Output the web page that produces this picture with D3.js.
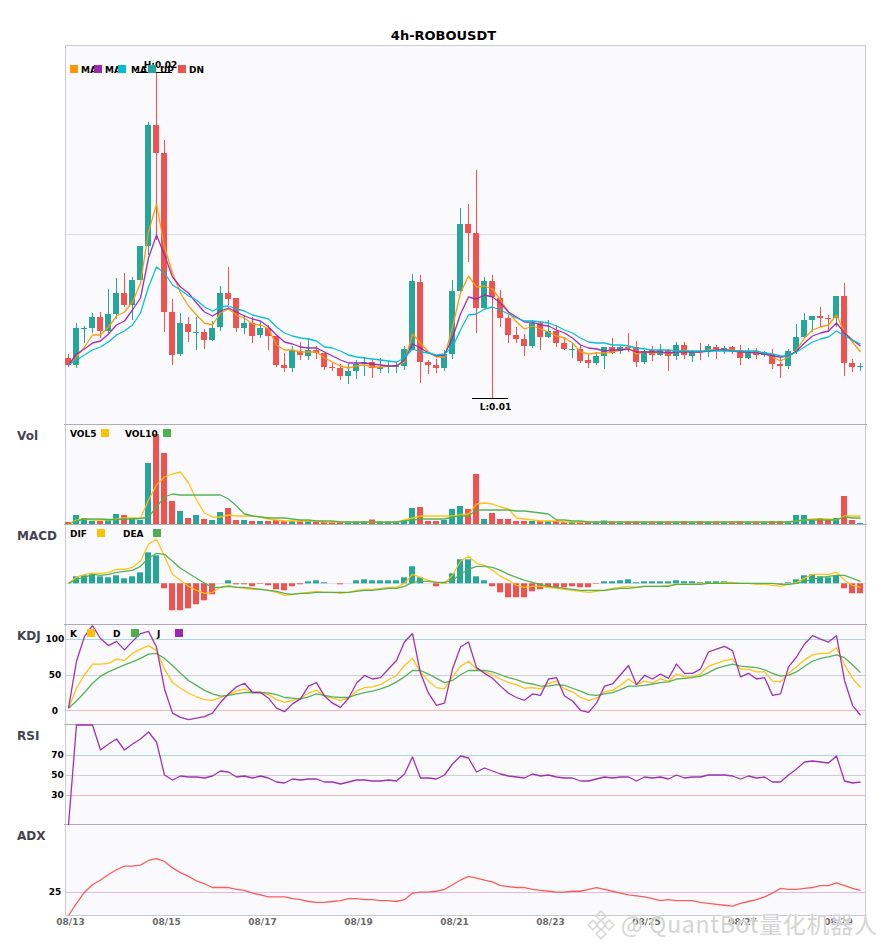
<!DOCTYPE html>
<html><head><meta charset="utf-8">
<script src="https://cdn.jsdelivr.net/npm/d3@7"></script>
<style>html,body{margin:0;padding:0;background:#fff}svg{display:block}text{font-family:"DejaVu Sans",sans-serif}</style>
</head><body><div id="chart"></div>
<script>
const title = "4h-ROBOUSDT";
const dateLabels = ["08/13","08/15","08/17","08/19","08/21","08/23","08/25","08/27","08/29"];
// price series, in chart units (price axis carries no scale labels in the source)
const openP = [42,35,71,72,83,69,86,107,95,120,154,275,247,88,46,76,67,68,60,73,107,102,72,77,65,72,64,35,32,49,44,50,47,33,32,24,29,36,38,31,33,33,34,50,118,38,35,32,46,109,176,167,92,119,102,82,65,61,54,77,63,69,57,50,51,40,37,44,53,49,53,53,38,50,45,50,44,55,44,49,48,53,50,53,50,42,49,45,46,36,34,49,63,80,84,82,82,104,37,33];
const closeP = [35,72,72,83,69,86,107,95,120,154,275,247,88,45,77,68,68,60,72,107,101,72,77,64,72,64,35,32,50,45,50,47,33,32,24,29,36,38,32,33,34,35,51,119,38,35,32,46,109,176,167,92,119,103,82,65,61,54,77,63,69,57,51,51,39,37,44,53,47,53,52,38,49,45,50,44,55,45,48,48,54,51,52,50,42,48,45,48,36,34,49,63,80,84,82,81,104,37,33,34];
const highP = [46,77,74,87,88,111,122,127,123,154,278,328,260,101,87,83,83,71,79,114,133,102,85,83,79,75,64,47,54,58,62,54,47,37,36,36,40,43,40,42,39,39,54,126,125,40,41,50,120,192,196,230,123,125,110,85,73,66,80,79,80,75,63,57,55,45,48,53,62,54,67,59,50,54,56,51,58,58,50,57,56,55,54,54,55,52,52,49,51,44,51,76,87,84,93,85,104,117,41,37];
const lowP = [33,32,57,67,62,67,81,93,80,120,145,160,68,35,44,58,50,51,59,69,95,68,66,57,62,50,33,28,28,40,40,41,30,29,20,16,21,24,22,27,27,27,30,50,17,26,27,29,41,108,138,67,92,2,73,57,57,44,52,50,62,53,50,42,37,32,35,31,46,46,48,33,36,39,44,29,40,41,38,40,43,41,46,46,35,41,41,43,31,22,31,46,62,68,73,68,73,24,28,29];
const ma5 = [35,43,53,65,65,73,84,88,98,117,168,196,153,127,107,94,85,77,75,87,91,85,82,76,75,71,55,50,50,48,48,48,42,38,34,32,34,35,33,33,34,34,38,66,57,48,43,43,73,107,124,113,114,111,100,88,78,71,74,71,68,64,62,57,48,46,47,47,48,50,52,46,48,47,48,46,48,50,48,48,50,50,50,50,48,48,47,47,43,39,43,50,62,70,73,75,85,68,58,48];
const ma10 = [35,46,51,57,59,66,75,79,90,102,142,165,145,123,113,107,97,88,84,89,92,88,84,81,79,73,65,58,56,53,52,52,48,44,40,37,37,37,36,35,34,34,40,56,52,47,44,45,62,86,103,101,105,103,97,88,83,78,78,75,74,70,67,62,55,52,51,49,50,50,51,48,48,48,48,47,48,48,48,48,49,50,50,49,48,48,47,46,44,43,44,49,57,64,67,69,77,67,60,54];
const ma20 = [35,40,45,50,53,58,65,69,75,87,113,133,127,115,110,104,100,93,89,93,94,91,89,85,83,81,73,67,64,62,61,59,53,52,49,45,43,42,41,40,39,38,42,51,48,47,45,46,53,70,85,86,91,93,90,86,82,79,79,78,77,74,70,67,62,58,57,57,55,55,54,52,51,50,50,50,49,49,49,49,49,49,49,49,49,49,49,47,46,44,44,48,53,58,61,63,69,64,60,56];
const volume = [2,9,6,3,3,5,10,9,6,4,61,90,71,23,13,6,9,5,4,12,16,4,4,3,3,3,4,3,3,3,3,2,2,2,2,1,2,3,4.5,2,2,2,4,16,17,3,3,4,15,18,15,50,5,11,5,5,3,3,3,3,3,3,2,2,2,2,1,3.5,2,1,2,2,1,1,2,1,1,3,1,3,2,1,1,1,3,1,1,1,3,3,3,9,9,4,6,4,6,28,4,1];
const vol5 = [0,4,5,4,4,4,5,6,6,6,24,39,47,50,52,41,24,11,7,7,9,8,8,8,7,5,4,3,3,3,3,3,2,2,2,2,2,2,2,2,2,2,4,6,8,8,8,8,8,9,10,20,21,20,17,15,6,5,4,3,3,3,2,2,2,2,2,2,2,2,2,2,2,2,2,2,2,2,2,2,2,2,2,2,2,2,2,2,2,2,2,3,4,5,5,5,4,8,8,8];
const vol10 = [0,3,5,5,5,4.5,4.5,5,5,5.5,7,17,27,30,29,29,29,29,29,29,25,18,10,8,7,6,6,6,5,4,4,3,3,3,2,2,2,2,2,2,2,2,3,4,5,5,5,5,7,8,8,14,14,14,14,14,13,13,12,11,10,4,4,3,3,2,2,2,2,2,2,2,2,2,2,2,2,2,2,2,2,2,2,2,2,2,2,2,2,2,2,3,4,4,4,4,4,7,6,6];
const macdHist = [0,7,8,9,7,6,8,5,7,11,31,28,-5,-27,-27,-25,-21,-17,-11,0,3,-1,-1,-3,-0.5,-2,-6,-7,-3,-1,2,3,1,0,-1,0,3,4,3,3,3,3,6,17,6,0,-3,-0.5,10,24,24,7,3,-3,-9,-14,-14,-14,-8,-6,-4,-4,-4,-3,-4,-4,-0.5,2,2,3,4,1,2,2,2,2,3,2,2,1,2,2,2,0,0,0,0,0,-0.5,-0.5,1,4,8,9,7,6,8,-5,-10,-10];
const dif = [0,6,9,10,10,11,14,14,16,22,39,44,27,9,3,-3,-7,-10,-9,-4,-2,-4,-5,-6,-6,-7,-9,-12,-11,-10,-9,-8,-9,-9,-10,-9,-7,-6,-6,-5,-4,-4,0,9,6,3,1,0,8,22,27,20,18,13,7,3,-2,-4,-3,-3,-4,-5,-6,-7,-8,-9,-8,-7,-5,-4,-3,-4,-3,-3,-3,-2,-1,-1,-1,0,0,0,1,1,0,0,-1,-1,-2,-3,-1,1,5,9,9,9,11,3,-2,-4];
const dea = [0,4,6,9,8,9,11,12,13,17,25,30,29,22,15,10,5,0,-4,-4,-3,-4,-4,-5,-6,-7,-8,-10,-11,-10,-10,-9,-9,-9,-9,-9,-8,-7,-7,-6,-5,-5,-3,1,2,2,1,1,3,9,14,17,17,16,13,9,6,3,1,-1,-3,-4,-5,-6,-7,-7,-7,-7,-6,-5,-5,-4,-3,-3,-3,-3,-1,-1,-1,-1,0,0,0,0,0,0,0,0,0,-1,-1,0,2,4,6,7,8,8,5,2];
const kdjK = [3,31,50,65,65,66,72,70,80,86,91,84,58,39,31,24,19,15,14,18,22,27,30,25,25,22,15,11,14,17,24,28,20,17,14,17,27,32,33,36,43,49,63,73,54,41,32,30,47,62,69,58,54,50,44,39,36,31,32,30,38,41,30,26,18,14,17,26,28,35,44,36,41,39,44,41,51,47,47,51,62,66,70,72,58,58,54,54,41,40,52,61,71,78,80,80,88,64,45,32];
const kdjD = [3,13,25,38,48,54,59,64,68,73,79,80,73,63,52,42,35,28,23,20,21,23,25,25,25,24,22,18,17,16,19,23,21,19,18,18,22,25,27,30,34,40,47,56,56,51,45,39,42,50,56,56,56,54,50,46,43,39,37,34,34,36,35,31,27,22,21,23,25,29,34,34,35,37,39,40,44,45,46,48,53,59,62,65,62,61,60,57,52,48,49,54,62,69,73,75,78,74,64,53];
const kdjJ = [3,69,104,119,101,91,97,85,97,108,111,89,30,-4,-10,-13,-11,-9,-4,11,23,33,38,25,25,17,3,-2,9,16,34,39,20,10,4,17,38,49,44,46,58,70,96,108,52,24,7,10,58,89,96,60,52,45,34,24,18,14,23,21,44,46,20,13,0,-3,10,34,37,50,63,36,49,44,51,45,65,52,52,58,82,86,90,84,47,52,44,46,21,23,61,75,93,105,100,96,105,42,7,-7];
const rsi = [0,100,100,100,75,81,86,75,81,86,93,83,50,45,49,48,48,47,49,54,53,48,49,47,49,47,43,42,46,45,46,46,43,43,41,43,45,45,44,44,45,44,51,68,47,47,46,50,61,69,67,53,57,54,51,49,48,47,51,49,50,48,47,47,44,44,46,48,47,48,48,44,48,47,48,46,50,47,48,48,50,50,50,49,46,49,47,48,43,43,50,56,63,64,63,62,69,44,42,43];
const adx = [0,13,25,33,38,44,49,53,53,54,59,61,58,51,46,42,37,34,30,30,30,28,27,24,22,20,20,20,18,17,15,14,14,15,16,18,18,17,17,16,16,15,17,24,25,25,26,28,33,38,42,40,38,36,32,31,30,30,28,27,26,25,25,26,26,28,30,28,26,24,22,21,20,18,16,17,16,16,16,14,13,12,11,10,13,15,17,20,24,29,28,28,29,30,32,32,35,32,29,27];
const kdjLevels = [100,50,0];
const rsiLevels = [70,50,30];
const adxLevels = [25];
const highLabel = "H:0.02", lowLabel = "L:0.01";

const UP="#26a69a", DN="#ef5350", ORANGE="#ff9800", PURPLE="#9c27b0", CYAN="#00bcd4", YEL="#ffc107", GRN="#4caf50";
const L=65.5, R=865.5, W=885, H=950;
const svg=d3.select("#chart").append("svg").attr("width",W).attr("height",H);
const x=d3.scaleLinear().domain([0,99]).range([68,860]);
const idx=d3.range(100);
const bw=6;

svg.append("text").attr("x",443.5).attr("y",39.5).attr("text-anchor","middle").attr("font-size",13).attr("font-weight","bold").attr("fill","#000").text(title);

// panel frames
svg.append("rect").attr("x",L).attr("y",45.5).attr("width",R-L).attr("height",870).attr("fill","#fafafc").attr("stroke","#c9c9d3").attr("stroke-width",1);
const splits=[424.5,524.5,624.5,724.5,824.5];
svg.selectAll("line.split").data(splits).join("line").attr("class","split").attr("x1",L-1.5).attr("x2",R+1.5).attr("y1",d=>d).attr("y2",d=>d).attr("stroke","#aeaeb4");

// scales
const yP=d3.scaleLinear().domain([-24,355]).range([424,45]);
const yV=d3.scaleLinear().domain([0,100]).range([524,424]);
const yM=d3.scaleLinear().domain([-40.7,58.3]).range([624,525]);
const yK=d3.scaleLinear().domain([-19.3,120]).range([724,625]);
const yR=d3.scaleLinear().domain([0,100]).range([825,725]);
const yA=d3.scaleLinear().domain([0,97]).range([915.5,825]);

function line(sel,series,y,color,w){
  sel.append("path").datum(series).attr("fill","none").attr("stroke",color).attr("stroke-width",w||1.3).attr("stroke-linejoin","round").attr("stroke-opacity",0.95)
   .attr("d",d3.line().x((d,i)=>x(i)+.5).y(d=>y(d)));
}
function hline(val,y,color){
  svg.append("line").attr("x1",L+.5).attr("x2",R-.5).attr("y1",Math.round(y(val))+.5).attr("y2",Math.round(y(val))+.5).attr("stroke",color);
}
function legend(items){
  items.forEach(it=>svg.append("text").attr("x",it.tx).attr("y",it.sy+7.5).attr("font-size",9).attr("font-weight","bold").attr("fill","#000").text(it.t));
  items.forEach(it=>svg.append("rect").attr("x",it.sx).attr("y",it.sy).attr("width",8).attr("height",8).attr("fill",it.c));
}
function side(t,yy){svg.append("text").attr("x",17).attr("y",yy).attr("font-size",12).attr("font-weight","bold").attr("fill","#444450").text(t);}
function lvl(t,px,yy){svg.append("text").attr("x",px).attr("y",yy).attr("dy","0.36em").attr("text-anchor","middle").attr("font-size",9).attr("font-weight","bold").attr("fill","#000").text(t);}

// main panel
hline(166,yP,"#e0dde8");
const g=svg.append("g");
const col=i=>closeP[i]>=openP[i]?UP:DN;
g.selectAll("line.wick").data(idx).join("line").attr("class","wick").attr("x1",i=>x(i)+.5).attr("x2",i=>x(i)+.5).attr("y1",i=>yP(highP[i])).attr("y2",i=>yP(lowP[i])).attr("stroke",col).attr("stroke-width",1);
g.selectAll("rect.body").data(idx).join("rect").attr("class","body").attr("x",i=>x(i)-bw/2).attr("width",bw)
 .attr("y",i=>yP(Math.max(openP[i],closeP[i]))).attr("height",i=>Math.max(1,Math.abs(yP(openP[i])-yP(closeP[i])))).attr("fill",col);
line(g,ma5,yP,ORANGE,1.3);line(g,ma10,yP,PURPLE,1.3);line(g,ma20,yP,CYAN,1.3);

// H / L markers
const iH=d3.maxIndex(highP), iL=d3.minIndex(lowP);
svg.append("line").attr("x1",x(iH)-20).attr("x2",x(iH)+16).attr("y1",yP(highP[iH])+.5).attr("y2",yP(highP[iH])+.5).attr("stroke","#000");
svg.append("text").attr("x",x(iH)+4.5).attr("y",yP(highP[iH])-4).attr("text-anchor","middle").attr("font-size",9).attr("font-weight","bold").text(highLabel);
svg.append("line").attr("x1",x(iL)-20).attr("x2",x(iL)+16).attr("y1",yP(lowP[iL])+.5).attr("y2",yP(lowP[iL])+.5).attr("stroke","#000");
svg.append("text").attr("x",x(iL)+3.5).attr("y",yP(lowP[iL])+12).attr("text-anchor","middle").attr("font-size",9).attr("font-weight","bold").text(lowLabel);
legend([{t:"MA",tx:81,sx:70,sy:65,c:ORANGE},{t:"MA",tx:105,sx:94,sy:65,c:PURPLE},{t:"MA",tx:131,sx:118,sy:65,c:CYAN},{t:"UP",tx:160,sx:148,sy:65,c:UP},{t:"DN",tx:189,sx:178,sy:65,c:DN}]);

// Vol
side("Vol",440);
svg.selectAll("rect.v").data(idx).join("rect").attr("class","v").attr("x",i=>x(i)-bw/2).attr("width",bw).attr("y",i=>yV(volume[i])).attr("height",i=>yV(0)-yV(volume[i])).attr("fill",col);
line(svg,vol5,yV,YEL);line(svg,vol10,yV,GRN);
legend([{t:"VOL5",tx:70,sx:101,sy:429,c:YEL},{t:"VOL10",tx:125,sx:163,sy:429,c:GRN}]);

// MACD
side("MACD",540);
hline(0,yM,"#e2e2e6");
svg.selectAll("rect.m").data(idx).join("rect").attr("class","m").attr("x",i=>x(i)-bw/2).attr("width",bw)
 .attr("y",i=>yM(Math.max(0,macdHist[i]))).attr("height",i=>Math.abs(yM(macdHist[i])-yM(0))).attr("fill",i=>macdHist[i]>=0?UP:DN);
line(svg,dif,yM,YEL);line(svg,dea,yM,GRN);
legend([{t:"DIF",tx:70,sx:97,sy:529,c:YEL},{t:"DEA",tx:123,sx:153,sy:529,c:GRN}]);

// KDJ
side("KDJ",640);
const lvColors=["#a6dcd8","#d0d0d4","#f8b8b8"];
kdjLevels.forEach((v,i)=>{hline(v,yK,lvColors[i]);lvl(v,55,yK(v));});
line(svg,kdjK,yK,YEL);line(svg,kdjD,yK,GRN);line(svg,kdjJ,yK,PURPLE);
legend([{t:"K",tx:70,sx:87,sy:629,c:YEL},{t:"D",tx:113,sx:131,sy:629,c:GRN},{t:"J",tx:157,sx:175,sy:629,c:PURPLE}]);

// RSI
side("RSI",740);
rsiLevels.forEach((v,i)=>{hline(v,yR,lvColors[i]);lvl(v,57.5,yR(v));});
line(svg,rsi,yR,PURPLE);

// ADX
side("ADX",840);
adxLevels.forEach(v=>{hline(v,yA,"#e4b8ec");lvl(v,55,yA(v));});
line(svg,adx,yA,"#ff5252");

// bottom date axis
const axis=d3.axisBottom(x).tickValues(dateLabels.map((d,i)=>i*12)).tickFormat((d,i)=>dateLabels[i]).tickSize(0).tickPadding(0);
const ag=svg.append("g").attr("transform","translate(2,919)").call(axis);
ag.select(".domain").remove();
ag.selectAll("text").attr("font-size",9).attr("font-weight","bold").attr("fill","#6a6a6a").attr("font-family","DejaVu Sans");

// watermark
const wm=svg.append("g").attr("opacity",0.9);
const lc=[601,925];
const dia=(cx,cy,r)=>`M${cx},${cy-r}L${cx+r},${cy}L${cx},${cy+r}L${cx-r},${cy}Z`;
[[0,-9,3.4],[-8,0,3.4],[8,0,3.4],[0,9,3.4],[0,0,3.4]].forEach(p=>wm.append("path").attr("d",dia(lc[0]+p[0],lc[1]+p[1],p[2]+1.5)).attr("fill","none").attr("stroke","#d6d6d6").attr("stroke-width",1.6));
wm.append("text").attr("x",621).attr("y",933).attr("font-size",23).attr("fill","#d0d0d0").attr("stroke","#fff").attr("stroke-width",1).attr("paint-order","stroke")
 .style("font-family",'"Noto Sans CJK SC","DejaVu Sans",sans-serif').attr("textLength",256).text("@ QuantBot量化机器人");
</script></body></html>
